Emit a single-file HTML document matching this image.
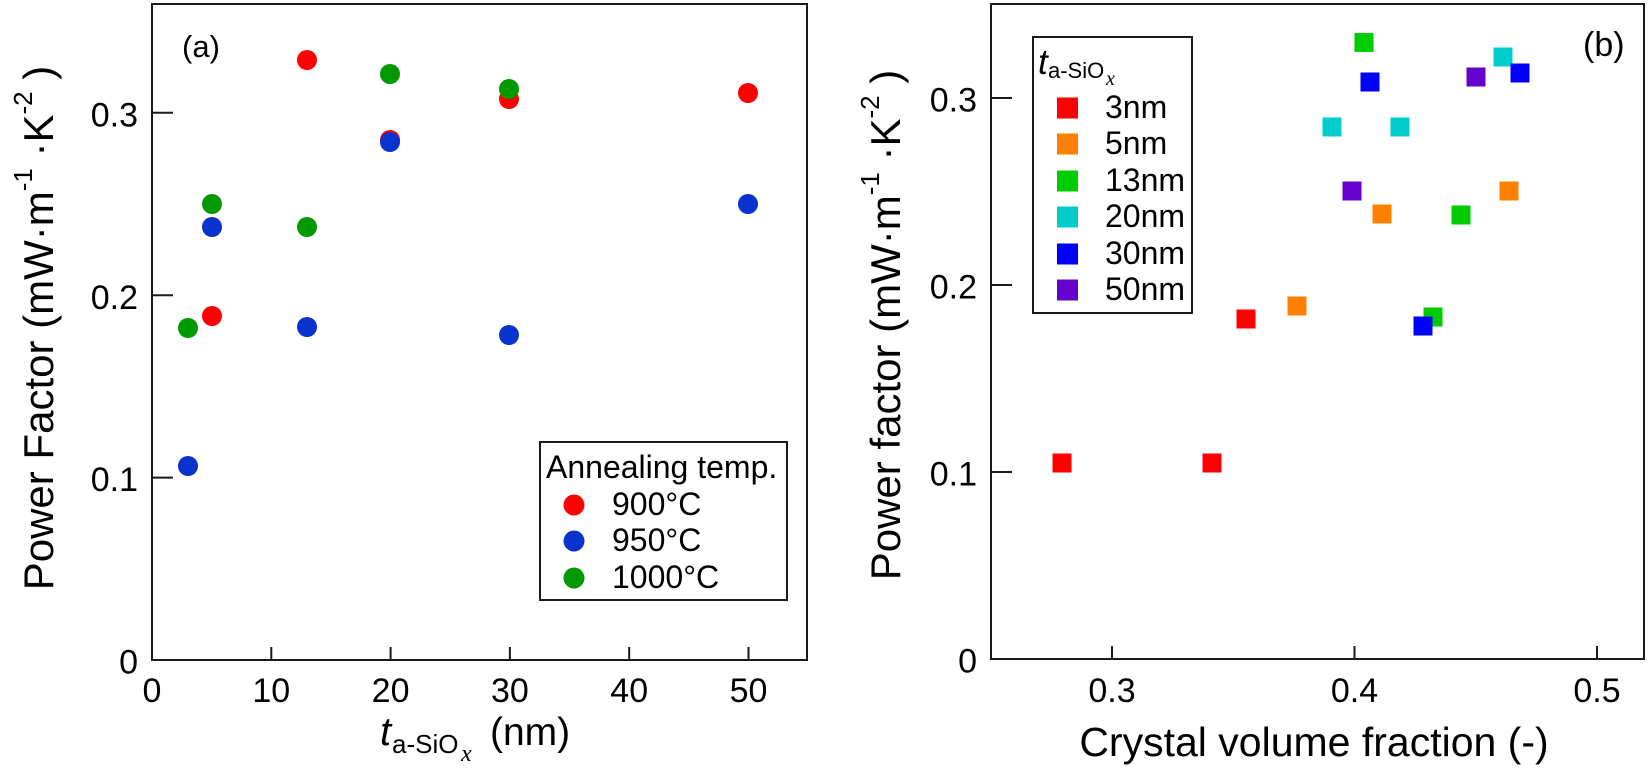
<!DOCTYPE html>
<html>
<head>
<meta charset="utf-8">
<style>
  html, body { margin: 0; padding: 0; background: #ffffff; }
  svg { display: block; }
  text { font-family: "Liberation Sans", Arial, sans-serif; fill: #000; }
</style>
</head>
<body>
<svg xmlns="http://www.w3.org/2000/svg" width="1650" height="772" viewBox="0 0 1650 772">
  <rect x="0" y="0" width="1650" height="772" fill="#ffffff"/>

  <!-- ================= LEFT PANEL (a) ================= -->
  <rect x="152" y="4" width="655" height="656" fill="none" stroke="#1a1a1a" stroke-width="2"/>
  <g stroke="#1a1a1a" stroke-width="2">
    <line x1="152" y1="477.6" x2="173" y2="477.6"/>
    <line x1="152" y1="295.2" x2="173" y2="295.2"/>
    <line x1="152" y1="112.8" x2="173" y2="112.8"/>
    <line x1="271.3" y1="660" x2="271.3" y2="647"/>
    <line x1="390.6" y1="660" x2="390.6" y2="647"/>
    <line x1="509.9" y1="660" x2="509.9" y2="647"/>
    <line x1="629.2" y1="660" x2="629.2" y2="647"/>
    <line x1="748.5" y1="660" x2="748.5" y2="647"/>
  </g>
  <g font-size="34" text-anchor="end">
    <text x="138" y="673.5">0</text>
    <text x="138" y="491">0.1</text>
    <text x="138" y="309">0.2</text>
    <text x="138" y="126.5">0.3</text>
  </g>
  <g font-size="34" text-anchor="middle">
    <text x="152" y="702">0</text>
    <text x="271.3" y="702">10</text>
    <text x="390.6" y="702">20</text>
    <text x="509.9" y="702">30</text>
    <text x="629.2" y="702">40</text>
    <text x="748.5" y="702">50</text>
  </g>
  <text transform="translate(53,328) rotate(-90)" text-anchor="middle" font-size="42">Power Factor (mW·m<tspan font-size="26" dy="-21">-1</tspan><tspan dy="21"> ·K</tspan><tspan font-size="26" dy="-21">-2</tspan><tspan dy="21"> )</tspan></text>
  <text x="380" y="745" font-size="40" font-style="italic">t</text>
  <text x="392" y="753" font-size="26">a-SiO</text>
  <text x="461" y="761" font-size="24" font-style="italic" style="font-family:'Liberation Serif',serif">x</text>
  <text x="490" y="745" font-size="39">(nm)</text>
  <text x="182" y="57" font-size="31">(a)</text>

  <g fill="#ff0000">
    <circle cx="307" cy="60" r="10"/>
    <circle cx="212" cy="316" r="10"/>
    <circle cx="509" cy="99" r="10"/>
    <circle cx="748" cy="93" r="10"/>
    <circle cx="390" cy="140" r="10"/>
  </g>
  <g fill="#0a32cc">
    <circle cx="188" cy="466" r="10"/>
    <circle cx="212" cy="227" r="10"/>
    <circle cx="307" cy="327" r="10"/>
    <circle cx="390" cy="142" r="10"/>
    <circle cx="509" cy="335" r="10"/>
    <circle cx="748" cy="204" r="10"/>
  </g>
  <g fill="#009900">
    <circle cx="188" cy="328" r="10"/>
    <circle cx="212" cy="204" r="10"/>
    <circle cx="307" cy="227" r="10"/>
    <circle cx="390" cy="74" r="10"/>
    <circle cx="509" cy="89" r="10"/>
  </g>

  <rect x="540" y="442" width="247" height="158" fill="#ffffff" stroke="#1a1a1a" stroke-width="2"/>
  <text x="546" y="478" font-size="32">Annealing temp.</text>
  <circle cx="574" cy="505" r="10.5" fill="#ff0000"/>
  <circle cx="574" cy="541" r="10.5" fill="#0a32cc"/>
  <circle cx="574" cy="578" r="10.5" fill="#009900"/>
  <g font-size="32">
    <text x="612" y="515">900°C</text>
    <text x="612" y="551">950°C</text>
    <text x="612" y="588">1000°C</text>
  </g>

  <!-- ================= RIGHT PANEL (b) ================= -->
  <rect x="991" y="4" width="653" height="655" fill="none" stroke="#1a1a1a" stroke-width="2"/>
  <g stroke="#1a1a1a" stroke-width="2">
    <line x1="991" y1="472" x2="1012" y2="472"/>
    <line x1="991" y1="285" x2="1012" y2="285"/>
    <line x1="991" y1="98" x2="1012" y2="98"/>
    <line x1="1112" y1="659" x2="1112" y2="646"/>
    <line x1="1354.5" y1="659" x2="1354.5" y2="646"/>
    <line x1="1597" y1="659" x2="1597" y2="646"/>
  </g>
  <g font-size="34" text-anchor="end">
    <text x="977" y="672.5">0</text>
    <text x="977" y="485.5">0.1</text>
    <text x="977" y="298.5">0.2</text>
    <text x="977" y="111.5">0.3</text>
  </g>
  <g font-size="34" text-anchor="middle">
    <text x="1112" y="702">0.3</text>
    <text x="1354.5" y="702">0.4</text>
    <text x="1597" y="702">0.5</text>
  </g>
  <text transform="translate(900,325) rotate(-90)" text-anchor="middle" font-size="42">Power factor (mW·m<tspan font-size="26" dy="-21">-1</tspan><tspan dy="21"> ·K</tspan><tspan font-size="26" dy="-21">-2</tspan><tspan dy="21"> )</tspan></text>
  <text x="1314" y="756" font-size="41" text-anchor="middle">Crystal volume fraction (-)</text>
  <text x="1583" y="56" font-size="34">(b)</text>

  <g fill="#ff0000">
    <rect x="1052.5" y="453.5" width="19" height="19"/>
    <rect x="1202.5" y="453.5" width="19" height="19"/>
    <rect x="1236.5" y="309.5" width="19" height="19"/>
  </g>
  <g fill="#ff8000">
    <rect x="1287.5" y="296.5" width="19" height="19"/>
    <rect x="1372.5" y="204.5" width="19" height="19"/>
    <rect x="1499.5" y="181.5" width="19" height="19"/>
  </g>
  <g fill="#00cc00">
    <rect x="1354.5" y="33" width="19" height="19"/>
    <rect x="1451.5" y="205.5" width="19" height="19"/>
    <rect x="1423.5" y="307.5" width="19" height="19"/>
  </g>
  <g fill="#00cccc">
    <rect x="1322.5" y="117.5" width="19" height="19"/>
    <rect x="1390.5" y="117.5" width="19" height="19"/>
    <rect x="1493.5" y="47.5" width="19" height="19"/>
  </g>
  <g fill="#0000ff">
    <rect x="1360.5" y="72.5" width="19" height="19"/>
    <rect x="1510.5" y="63.5" width="19" height="19"/>
    <rect x="1413.5" y="316.5" width="19" height="19"/>
  </g>
  <g fill="#6600cc">
    <rect x="1342.5" y="181.5" width="19" height="19"/>
    <rect x="1466.5" y="67.5" width="19" height="19"/>
  </g>

  <rect x="1033" y="37" width="159" height="276" fill="#ffffff" stroke="#1a1a1a" stroke-width="2"/>
  <text x="1038" y="74" font-size="35" font-style="italic">t</text>
  <text x="1048" y="78" font-size="22">a-SiO</text>
  <text x="1106" y="85" font-size="20" font-style="italic" style="font-family:'Liberation Serif',serif">x</text>
  <rect x="1057" y="97.5" width="21" height="21" fill="#ff0000"/>
  <rect x="1057" y="133.5" width="21" height="21" fill="#ff8000"/>
  <rect x="1057" y="170.5" width="21" height="21" fill="#00cc00"/>
  <rect x="1057" y="206.5" width="21" height="21" fill="#00cccc"/>
  <rect x="1057" y="243.5" width="21" height="21" fill="#0000ff"/>
  <rect x="1057" y="279.5" width="21" height="21" fill="#6600cc"/>
  <g font-size="32">
    <text x="1105" y="118">3nm</text>
    <text x="1105" y="154">5nm</text>
    <text x="1105" y="191">13nm</text>
    <text x="1105" y="227">20nm</text>
    <text x="1105" y="264">30nm</text>
    <text x="1105" y="300">50nm</text>
  </g>
</svg>
</body>
</html>
